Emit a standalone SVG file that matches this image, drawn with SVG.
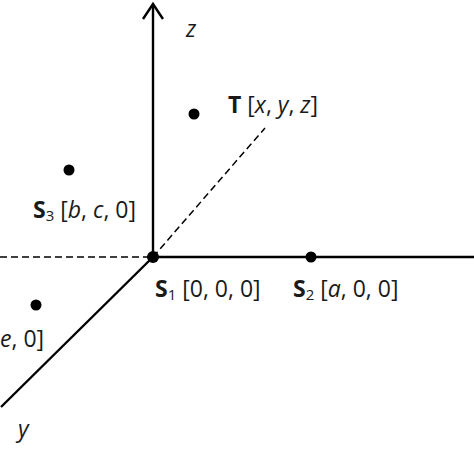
<svg xmlns="http://www.w3.org/2000/svg" width="474" height="474" viewBox="0 0 474 474">
<style>
.ax{stroke:#000;stroke-width:2.4;fill:none}
.dash{stroke:#000;stroke-width:1.5;fill:none;stroke-dasharray:7,4}
.pt{fill:#000}
text{font-family:"Open Sans","Liberation Sans",sans-serif;font-size:23px;fill:#1a1a1a}
.b{font-weight:bold}
.i{font-style:italic}
.sub{font-size:15px}
</style>
<g id="connectors">
<line class="dash" x1="0" y1="257" x2="153" y2="257"/>
<line class="dash" x1="153" y1="257" x2="265" y2="128"/>
<line class="ax" x1="153" y1="257" x2="474" y2="257"/>
<line class="ax" x1="153" y1="257" x2="153" y2="4"/>
<polyline class="ax" points="143,19 153,4 163,19"/>
<line class="ax" x1="153" y1="257" x2="1" y2="407"/>
</g>
<g id="axis-z"><text class="i" x="186" y="37">z</text></g>
<g id="axis-y"><text class="i" x="18" y="437">y</text></g>
<g id="T"><circle class="pt" cx="194" cy="114" r="5.5"/><text x="228" y="113"><tspan class="b">T</tspan> [<tspan class="i">x</tspan>, <tspan class="i">y</tspan>, <tspan class="i">z</tspan>]</text></g>
<g id="S3"><circle class="pt" cx="69" cy="170" r="5.5"/><text x="33" y="218"><tspan class="b">S</tspan><tspan class="sub" dy="3">3</tspan><tspan dy="-3"> [</tspan><tspan class="i">b</tspan>, <tspan class="i">c</tspan>, 0]</text></g>
<g id="S1"><circle class="pt" cx="153" cy="257" r="6"/><text x="155" y="297"><tspan class="b">S</tspan><tspan class="sub" dy="3">1</tspan><tspan dy="-3"> [0, 0, 0]</tspan></text></g>
<g id="S2"><circle class="pt" cx="311" cy="257" r="5.5"/><text x="293" y="297"><tspan class="b">S</tspan><tspan class="sub" dy="3">2</tspan><tspan dy="-3"> [</tspan><tspan class="i">a</tspan>, 0, 0]</text></g>
<g id="S4"><circle class="pt" cx="36" cy="305" r="5.5"/><text x="0" y="347"><tspan class="i">e</tspan>, 0]</text></g>
</svg>
